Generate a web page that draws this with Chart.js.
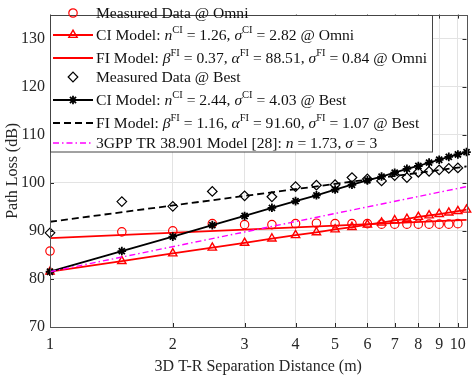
<!DOCTYPE html>
<html>
<head>
<meta charset="utf-8">
<script src="https://cdn.jsdelivr.net/npm/chart.js@4"></script>
<style>
  html, body { margin: 0; padding: 0; background: #fff; }
  #wrap { width: 474px; height: 377px; }
</style>
</head>
<body>
<div id="wrap"><canvas id="plChart"></canvas></div>
<script>
// distances (m)
var measuredDist = [1, 1.5, 2, 2.5, 3, 3.5, 4, 4.5, 5, 5.5, 6, 6.5, 7, 7.5, 8, 8.5, 9, 9.5, 10];
var modelDist = [1, 1.5, 2, 2.5, 3, 3.5, 4, 4.5, 5, 5.5, 6, 6.5, 7, 7.5, 8, 8.5, 9, 9.5, 10, 10.5];
var lineDist = [1, 10.5];

// path loss values (dB)
var omniMeasured = [85.8, 89.8, 90.0, 91.5, 91.3, 91.3, 91.5, 91.6, 91.5, 91.5, 91.5, 91.4, 91.4, 91.4, 91.4, 91.4, 91.4, 91.4, 91.5];
var omniCI = [81.5, 83.7, 85.3, 86.5, 87.5, 88.4, 89.1, 89.7, 90.3, 90.8, 91.3, 91.7, 92.2, 92.5, 92.9, 93.2, 93.5, 93.8, 94.1, 94.4];
var omniFI = [88.5, 92.3];
var bestMeasured = [89.6, 96.1, 95.1, 98.2, 97.3, 97.1, 99.2, 99.5, 99.6, 101.1, 100.8, 100.4, 101.5, 101.1, 102.2, 102.4, 102.7, 103.0, 103.1];
var bestCI = [81.5, 85.8, 88.8, 91.2, 93.1, 94.8, 96.2, 97.4, 98.6, 99.6, 100.5, 101.3, 102.1, 102.9, 103.5, 104.2, 104.8, 105.4, 105.9, 106.4];
var bestFI = [91.9, 103.4];
var gppModel = [81.5, 99.2];

var xTicks = [1, 2, 3, 4, 5, 6, 7, 8, 9, 10];
var yTicks = [70, 80, 90, 100, 110, 120, 130];

var serif = "'Liberation Serif', 'DejaVu Serif', serif";
var axisColor = '#262626';

function pts(xs, ys) {
    return ys.map(function (v, i) { return { x: xs[i], y: v }; });
}

// legend rows: text parts [text, kind]  kind: r = regular, i = italic, s = superscript
var legendRows = [
    { parts: [['Measured Data @ Omni', 'r']] },
    { parts: [['CI Model: ', 'r'], ['n', 'i'], ['CI', 's'], [' = 1.26, ', 'r'], ['σ', 'i'], ['CI', 's'], [' = 2.82 @ Omni', 'r']] },
    { parts: [['FI Model: ', 'r'], ['β', 'i'], ['FI', 's'], [' = 0.37, ', 'r'], ['α', 'i'], ['FI', 's'], [' = 88.51, ', 'r'], ['σ', 'i'], ['FI', 's'], [' = 0.84 @ Omni', 'r']] },
    { parts: [['Measured Data @ Best', 'r']] },
    { parts: [['CI Model: ', 'r'], ['n', 'i'], ['CI', 's'], [' = 2.44, ', 'r'], ['σ', 'i'], ['CI', 's'], [' = 4.03 @ Best', 'r']] },
    { parts: [['FI Model: ', 'r'], ['β', 'i'], ['FI', 's'], [' = 1.16, ', 'r'], ['α', 'i'], ['FI', 's'], [' = 91.60, ', 'r'], ['σ', 'i'], ['FI', 's'], [' = 1.07 @ Best', 'r']] },
    { parts: [['3GPP TR 38.901 Model [28]: ', 'r'], ['n', 'i'], [' = 1.73, ', 'r'], ['σ', 'i'], [' = 3', 'r']] }
];
var legendRowY = [13, 35, 58, 77, 100, 123, 143];

var datasets = [
    { data: pts(measuredDist, omniMeasured), showLine: false, borderColor: '#ff0000', backgroundColor: 'rgba(0,0,0,0)',
      pointStyle: 'circle', pointRadius: 4.2, pointBorderWidth: 1.2 },
    { data: pts(modelDist, omniCI), borderColor: '#ff0000', borderWidth: 1.8, backgroundColor: 'rgba(0,0,0,0)',
      pointStyle: 'triangle', pointRadius: 4.8, pointBorderWidth: 1.4 },
    { data: pts(lineDist, omniFI), borderColor: '#ff0000', borderWidth: 1.8, pointRadius: 0 },
    { data: pts(measuredDist, bestMeasured), showLine: false, borderColor: '#000', backgroundColor: 'rgba(0,0,0,0)',
      pointStyle: 'rectRot', pointRadius: 4.8, pointBorderWidth: 1.2 },
    { data: pts(modelDist, bestCI), borderColor: '#000', borderWidth: 1.8, backgroundColor: '#000',
      pointStyle: 'star', pointRadius: 4.3, pointBorderWidth: 1.8 },
    { data: pts(lineDist, bestFI), borderColor: '#000', borderWidth: 1.8, borderDash: [7, 4], pointRadius: 0 },
    { data: pts(lineDist, gppModel), borderColor: '#ff00ff', borderWidth: 1.4, borderDash: [6, 3, 1.5, 3], pointRadius: 0 }
];
datasets.forEach(function (ds, i) {
    ds.order = datasets.length - i;
    ds.clip = 10;
    ds.tension = 0;
    ds.fill = false;
});

// frame, inner tick marks and legend box
var framePlugin = {
    id: 'frame',
    afterDraw: function (chart) {
        var ctx = chart.ctx, a = chart.chartArea;
        var xs = chart.scales.x, ys = chart.scales.y;
        ctx.save();
        ctx.strokeStyle = axisColor;
        ctx.lineWidth = 1;
        ctx.beginPath();
        xTicks.forEach(function (t) {
            var px = Math.round(xs.getPixelForValue(t)) + 0.5;
            ctx.moveTo(px, a.bottom); ctx.lineTo(px, a.bottom - 4);
            ctx.moveTo(px, a.top); ctx.lineTo(px, a.top + 4);
        });
        yTicks.forEach(function (t) {
            var py = Math.round(ys.getPixelForValue(t)) + 0.5;
            ctx.moveTo(a.left, py); ctx.lineTo(a.left + 4, py);
            ctx.moveTo(a.right, py); ctx.lineTo(a.right - 4, py);
        });
        ctx.stroke();
        ctx.strokeStyle = '#555';
        ctx.strokeRect(Math.round(a.left) + 0.5, Math.round(a.top) + 0.5,
            Math.round(a.right - a.left), Math.round(a.bottom - a.top));

        // legend
        var lx = Math.round(a.left) + 0.5, ly = Math.round(a.top) + 0.5;
        var lw = 382, lh = 152 - ly;
        ctx.fillStyle = '#fff';
        ctx.fillRect(lx, ly, lw, lh);
        ctx.strokeStyle = '#444';
        ctx.strokeRect(lx, ly, lw, lh);

        var ds = chart.data.datasets;
        legendRows.forEach(function (row, i) {
            var d = ds[i], y = legendRowY[i];
            if (d.showLine !== false) {
                ctx.save();
                ctx.strokeStyle = d.borderColor;
                ctx.lineWidth = d.borderWidth;
                ctx.setLineDash(d.borderDash || []);
                ctx.beginPath();
                ctx.moveTo(a.left + 3, y);
                ctx.lineTo(a.left + 43, y);
                ctx.stroke();
                ctx.restore();
            }
            if (d.pointRadius > 0) {
                ctx.save();
                ctx.strokeStyle = d.borderColor;
                ctx.fillStyle = d.backgroundColor || 'rgba(0,0,0,0)';
                ctx.lineWidth = d.pointBorderWidth;
                Chart.helpers.drawPoint(ctx, { pointStyle: d.pointStyle, radius: d.pointRadius, borderWidth: d.pointBorderWidth, rotation: 0 }, a.left + 23, y);
                ctx.restore();
            }
            drawRich(ctx, a.left + 46, y, row.parts);
        });
        ctx.restore();
    }
};

function drawRich(ctx, x, y, parts) {
    ctx.save();
    ctx.fillStyle = '#111';
    ctx.textBaseline = 'middle';
    ctx.textAlign = 'left';
    parts.forEach(function (p) {
        var txt = p[0], kind = p[1], dy = 0;
        if (kind === 'i') ctx.font = 'italic 15.6px ' + serif;
        else if (kind === 's') { ctx.font = '10.5px ' + serif; dy = -6; }
        else ctx.font = '15.6px ' + serif;
        ctx.fillText(txt, x, y + dy + 1);
        x += ctx.measureText(txt).width;
    });
    ctx.restore();
}

new Chart(document.getElementById('plChart'), {
    type: 'line',
    data: { datasets: datasets },
    options: {
        responsive: true,
        maintainAspectRatio: false,
        animation: false,
        layout: { padding: { top: 1, right: 6, left: 0, bottom: 0 } },
        plugins: { legend: { display: false }, tooltip: { enabled: false } },
        scales: {
            x: {
                type: 'logarithmic',
                min: 1,
                max: 10.5,
                afterBuildTicks: function (s) { s.ticks = xTicks.map(function (v) { return { value: v }; }); },
                afterFit: function (s) { s.height = 50; },
                grid: { color: '#e3e3e3', drawTicks: false },
                border: { display: false },
                ticks: {
                    autoSkip: false, maxRotation: 0, padding: 8,
                    color: axisColor, font: { family: serif, size: 16 },
                    callback: function (v) { return String(v); }
                },
                title: {
                    display: true, text: '3D T-R Separation Distance (m)',
                    color: axisColor, font: { family: serif, size: 16 },
                    padding: { top: 0, bottom: 1 }
                }
            },
            y: {
                min: 70,
                max: 135,
                afterBuildTicks: function (s) { s.ticks = yTicks.map(function (v) { return { value: v }; }); },
                afterFit: function (s) { s.width = 50; },
                grid: { color: '#e3e3e3', drawTicks: false },
                border: { display: false },
                ticks: {
                    padding: 5,
                    color: axisColor, font: { family: serif, size: 16 }
                },
                title: {
                    display: true, text: 'Path Loss (dB)',
                    color: axisColor, font: { family: serif, size: 16 },
                    padding: { top: 3, bottom: 0 }
                }
            }
        }
    },
    plugins: [framePlugin]
});
</script>
</body>
</html>
